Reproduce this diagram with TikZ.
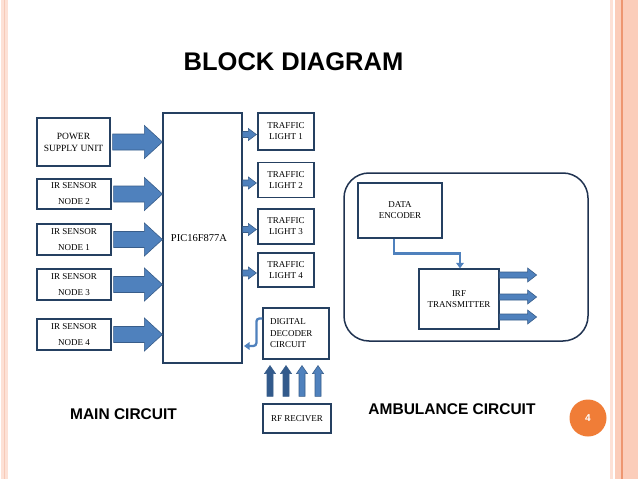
\documentclass[tikz,border=0pt]{standalone}
\usepackage{fontspec}
\setmainfont{Liberation Serif}
\newfontfamily\headfont{Liberation Sans}
\usetikzlibrary{calc,arrows.meta}
\definecolor{boxline}{RGB}{37,64,97}
\definecolor{arrfill}{RGB}{79,129,189}
\definecolor{arrline}{RGB}{56,93,138}
\definecolor{arrdark}{RGB}{50,90,140}
\definecolor{pinkband}{RGB}{251,205,186}
\definecolor{pinkline}{RGB}{238,150,112}
\definecolor{pageorange}{RGB}{240,125,55}
\definecolor{ambline}{RGB}{31,50,80}

\newcommand{\arrright}[6][]{%
\path[blockarr,#1] let \p1=(#2), \p2=(#3) in (\x1,\y1+#4) -- (\x2-#6,\y1+#4) -- (\x2-#6,\y1+#5) -- (\x2,\y1) -- (\x2-#6,\y1-#5) -- (\x2-#6,\y1-#4) -- (\x1,\y1-#4) -- cycle;}
\newcommand{\arrup}[6][]{%
\path[blockarr,#1] let \p1=(#2), \p2=(#3) in (\x1+#4,\y1) -- (\x1+#4,\y2-#6) -- (\x1+#5,\y2-#6) -- (\x1,\y2) -- (\x1-#5,\y2-#6) -- (\x1-#4,\y2-#6) -- (\x1-#4,\y1) -- cycle;}

\begin{document}
\begin{tikzpicture}[x=1pt,y=-1pt,
  box/.style={draw=boxline,line width=1.2pt,fill=white,inner sep=0pt,align=center,font=\fontsize{9}{11}\selectfont},
  blockarr/.style={fill=arrfill,draw=arrline,line width=0.6pt},
  link/.style={draw=arrfill,line width=2.3pt,-{Triangle[width=7.5pt,length=5.5pt]}},
  heading/.style={font=\headfont\bfseries\fontsize{15.5}{18}\selectfont,anchor=base}]
\useasboundingbox (0,0) rectangle (638,479);
\fill[white] (0,0) rectangle (638,479);
\fill[pinkband!60] (1,0) rectangle (8,479);
\draw[pinkline!50,line width=1pt] (4.5,0) -- (4.5,479);
\fill[pinkband!60] (610,0) rectangle (612.5,479);
\fill[pinkband] (615,0) rectangle (638,479);
\draw[pinkline,line width=1.2pt] (622,0) -- (622,479);

\node[heading,font=\headfont\bfseries\fontsize{25.5}{30}\selectfont] (title) at (293.5,70) {BLOCK DIAGRAM};

\node[box,minimum width=73,minimum height=48,font=\fontsize{9.5}{12}\selectfont] (psu) at (73.5,142) {POWER\\SUPPLY UNIT};
\node[box,minimum width=74,minimum height=30] (ir2) at (74,194) {IR SENSOR\\[5pt]NODE 2};
\node[box,minimum width=74,minimum height=31] (ir1) at (74,239.5) {IR SENSOR\\[5pt]NODE 1};
\node[box,minimum width=74,minimum height=31] (ir3) at (74,284.5) {IR SENSOR\\[5pt]NODE 3};
\node[box,minimum width=74,minimum height=31] (ir4) at (74,334.5) {IR SENSOR\\[5pt]NODE 4};
\node[box,minimum width=79,minimum height=250,font=\fontsize{10.5}{12}\selectfont] (pic) at (202.5,238) {PIC16F877A\hspace*{7pt}};

\node[box,minimum width=56,minimum height=37] (tl1) at (286,131.5) {TRAFFIC\\LIGHT 1};
\node[box,minimum width=56,minimum height=35] (tl2) at (286,180) {TRAFFIC\\LIGHT 2};
\node[box,minimum width=56,minimum height=35] (tl3) at (286,226.5) {TRAFFIC\\LIGHT 3};
\node[box,minimum width=56,minimum height=34] (tl4) at (286,270) {TRAFFIC\\LIGHT 4};
\node[box,minimum width=66,minimum height=51,text width=52,align=left,inner sep=7pt,font=\fontsize{9}{11.5}\selectfont] (dec) at (296,333.5) {DIGITAL\\DECODER\\CIRCUIT};
\node[box,minimum width=68,minimum height=29] (rf) at (297,418.5) {RF RECIVER};

\node[draw=ambline,line width=1.5pt,rounded corners=25pt,minimum width=244,minimum height=168] (amb) at (466,257) {};
\node[box,minimum width=84,minimum height=55] (enc) at (400,210.5) {DATA\\ENCODER};
\node[box,minimum width=80,minimum height=60] (irf) at (459,299) {IRF\\TRANSMITTER};

\foreach \bx in {psu,ir2,ir1,ir3,ir4}
  \arrright{$(\bx.east)+(2,0)$}{pic.west |- \bx.east}{8pt}{16.5pt}{18pt};
\foreach \bx in {tl1,tl2,tl3,tl4}
  \arrright{$(pic.east |- \bx.west)+(0,3)$}{$(\bx.west)+(-1,3)$}{3pt}{6pt}{8pt};
\foreach \dy in {-24,-2,18}
  \arrright{$(irf.east)+(0,\dy)$}{$(irf.east)+(37,\dy)$}{3pt}{7pt}{9pt};
\foreach \dx/\c in {-26/arrdark,-10/arrdark,6/arrfill,22/arrfill}
  \arrup[fill=\c]{$(rf.north)+(\dx-1,-7)$}{$(dec.south)+(\dx,6)$}{3pt}{5.5pt}{8pt};

\draw[link] ($(enc.south)+(-6,0)$) |- ($(irf.north)+(1,-15)$) -- ($(irf.north)+(1,0)$);
\coordinate (picin) at (244,346);
\draw[link,rounded corners=3pt] ($(dec.west)+(0,-15)$) -- ++(-6,0) |- (picin);

\node[heading] (maincap) at (123.5,419) {MAIN CIRCUIT};
\node[heading] (ambcap) at (452,414) {AMBULANCE CIRCUIT};
\node[circle,fill=pageorange,minimum size=37,inner sep=0pt,text=white,font=\headfont\bfseries\fontsize{10}{12}\selectfont] (pageno) at (588,418) {4};
\end{tikzpicture}
\end{document}
